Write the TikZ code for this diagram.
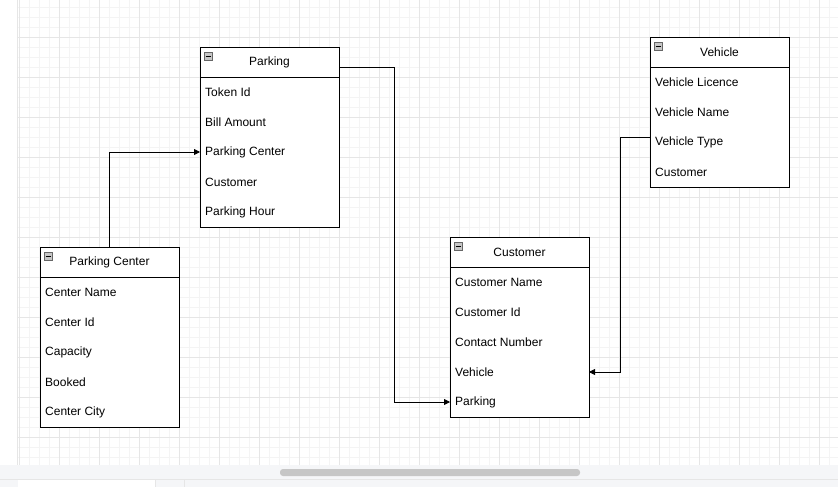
\documentclass[tikz,border=0pt]{standalone}
\usepackage{fontspec}
\setmainfont{Liberation Sans}
\usetikzlibrary{arrows.meta}
\definecolor{minorg}{HTML}{F4F4F4}
\definecolor{majorg}{HTML}{E6E6E6}
\definecolor{panel}{HTML}{F5F6F8}
\tikzset{
  tbox/.style={draw=black, fill=white, line width=0.8pt},
  ttl/.style={font=\fontsize{12}{14}\selectfont, anchor=center},
  fld/.style={font=\fontsize{12}{14}\selectfont, anchor=west, inner sep=0pt},
  icon/.style={draw=gray!80!black, fill=gray!45, line width=0.5pt},
  conn/.style={draw=black, line width=0.8pt, -{Triangle[length=6pt,width=6pt]}},
}
\newcommand{\erbox}[5]{% x,y,name,title,height
  \draw[tbox] (#1,#2) rectangle ++(139,#5);
  \draw[line width=0.8pt] (#1,#2+30) -- ++(139,0);
  \node[ttl] (#3) at (#1+69.5,#2+15.5) {#4};
  \draw[icon] (#1+4,#2+5) rectangle ++(8,8);
  \draw[line width=0.6pt] (#1+5.5,#2+9) -- ++(5,0);
}
\begin{document}
\begin{tikzpicture}[x=1pt,y=-1pt]
\useasboundingbox (0,0) rectangle (838,487);
\fill[white] (0,0) rectangle (838,487);
% grid
\foreach \x in {19,29,...,838} \draw[minorg,line width=0.6pt] (\x,0) -- (\x,465);
\foreach \y in {7,17,...,465} \draw[minorg,line width=0.6pt] (18,\y) -- (838,\y);
\foreach \x in {19,59,...,838} \draw[majorg,line width=0.7pt] (\x,0) -- (\x,465);
\foreach \y in {37,77,...,465} \draw[majorg,line width=0.7pt] (18,\y) -- (838,\y);
\fill[white] (0,0) rectangle (17,465);
\draw[majorg] (17.5,0) -- (17.5,465);
\fill[panel] (0,465) rectangle (838,487);
\fill[white] (18,479) rectangle (155,487);
\draw[majorg] (0,479) -- (838,479);
\draw[majorg] (155,479) -- (155,487) (184,479) -- (184,487);
\fill[gray!45,rounded corners=3pt] (280,469) rectangle (580,476);
% tables
\erbox{200}{47}{parking}{Parking}{180}
\node[fld] (p1) at (205,92) {Token Id};
\node[fld] (p2) at (205,122) {Bill Amount};
\node[fld] (p3) at (205,152) {Parking Center};
\node[fld] (p4) at (205,182) {Customer};
\node[fld] (p5) at (205,212) {Parking Hour};
\erbox{650}{37}{vehicle}{Vehicle}{150}
\node[fld] (v1) at (655,82) {Vehicle Licence};
\node[fld] (v2) at (655,112) {Vehicle Name};
\node[fld] (v3) at (655,142) {Vehicle Type};
\node[fld] (v4) at (655,172) {Customer};
\erbox{450}{237}{customer}{Customer}{180}
\node[fld] (c1) at (455,282) {Customer Name};
\node[fld] (c2) at (455,312) {Customer Id};
\node[fld] (c3) at (455,342) {Contact Number};
\node[fld] (c4) at (455,372) {Vehicle};
\node[fld] (c5) at (455,402) {Parking};
\erbox{40}{247}{pcenter}{Parking Center}{180}
\node[fld] (pc1) at (45,292) {Center Name};
\node[fld] (pc2) at (45,322) {Center Id};
\node[fld] (pc3) at (45,352) {Capacity};
\node[fld] (pc4) at (45,382) {Booked};
\node[fld] (pc5) at (45,412) {Center City};
% connectors
\coordinate (pr) at (339,67);
\coordinate (cl) at (450,402);
\draw[conn] (pr) -- (394,67) -- (394,402) -- (cl);
\coordinate (pct) at (109,247);
\coordinate (pl) at (200,152);
\draw[conn] (pct) -- (109,152) -- (pl);
\coordinate (vl) at (650,137);
\coordinate (cr) at (589,372);
\draw[conn] (vl) -- (620,137) -- (620,372) -- (cr);
\end{tikzpicture}
\end{document}
